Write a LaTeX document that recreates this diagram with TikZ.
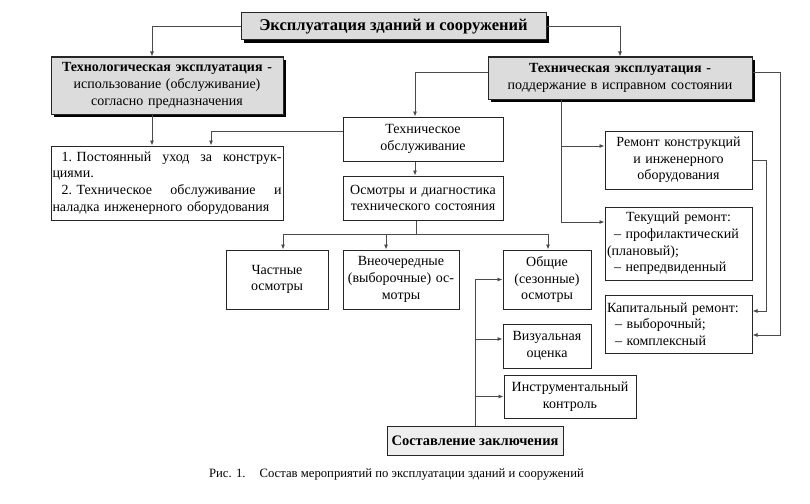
\documentclass[tikz,border=0pt]{standalone}
\usepackage{fontspec}
\setmainfont{Liberation Serif}
\usetikzlibrary{arrows.meta, positioning, shadows}
\definecolor{linegray}{HTML}{4A4A4A}
\definecolor{boxgray}{HTML}{DCDCDC}
\definecolor{palegray}{HTML}{EEEEEE}
\tikzset{
  box/.style={rectangle, draw=black!85, line width=1pt, fill=white,
              inner sep=1pt, align=center,
              font=\fontsize{14}{16.7}\selectfont},
  boxS/.style={box, fill=boxgray,
               drop shadow={shadow xshift=3pt, shadow yshift=-3pt,
                            fill=black, opacity=1}},
  arrow/.style={-{Latex[length=5pt,width=4pt]}, draw=linegray, line width=0.8pt},
  link/.style={draw=linegray, line width=0.8pt},
}

\begin{document}
\begin{tikzpicture}[x=1pt, y=-1pt]   %% pixel grid of the scan, y pointing down
  \useasboundingbox (0,0) rectangle (810,503);

  %% ── Top level ────────────────────────────────────────────────────────────
  \node[boxS, minimum width=305pt, minimum height=27pt,
        font=\fontsize{16.5}{19}\selectfont\bfseries] (title) at (393.5,26.5)
        {Эксплуатация зданий и сооружений};

  \node[boxS, minimum width=232pt, minimum height=57pt, text width=228pt]
        (techno) at (167,85.5)
        {\textbf{Технологическая эксплуатация -}\\
         использование (обслуживание)\\согласно предназначения};
  \node[boxS, minimum width=264pt, minimum height=42pt, text width=260pt]
        (tech) at (620,78)
        {\textbf{Техническая эксплуатация -}\\
         поддержание в исправном состоянии};

  %% ── Left branch ──────────────────────────────────────────────────────────
  \node[box, minimum width=232pt, minimum height=74pt, text width=229pt,
        align=left] (duties) at (167,183)
        {\hspace*{9pt}1.\ Постоянный\hfill уход\hfill за\hfill конструк-\\
         циями.\\
         \hspace*{9pt}2.\ Техническое\hfill обслуживание\hfill и\\
         наладка инженерного оборудования};

  %% ── Maintenance and inspections ──────────────────────────────────────────
  \node[box, minimum width=160pt, minimum height=44pt, text width=156pt]
        (service) at (423,139) {Техническое\\обслуживание};
  \node[box, minimum width=160pt, minimum height=44pt, text width=156pt]
        (survey) at (423,198) {Осмотры и диагностика\\технического состояния};

  \node[box, minimum width=102pt, minimum height=59pt, text width=98pt]
        (partial) at (277,279.5) {Частные\\осмотры};
  \node[box, minimum width=116pt, minimum height=59pt, text width=112pt]
        (unsched) at (401,279.5) {Внеочередные\\(выборочные) ос-\\мотры};
  \node[box, minimum width=88pt, minimum height=59pt, text width=84pt]
        (general) at (547,279.5) {Общие\\(сезонные)\\осмотры};
  \node[box, minimum width=88pt, minimum height=44pt, text width=84pt]
        (visual) at (547,346) {Визуальная\\оценка};
  \node[box, minimum width=132pt, minimum height=43pt, text width=128pt]
        (instr) at (570,396.5) {Инструментальный\\контроль};
  \node[box, fill=palegray, minimum width=176pt, minimum height=29pt,
        font=\fontsize{14.5}{17}\selectfont\bfseries] (report) at (475,440.5)
        {Составление заключения};

  %% ── Repairs ──────────────────────────────────────────────────────────────
  \node[box, minimum width=147pt, minimum height=58pt, text width=143pt]
        (repair) at (678.5,160) {Ремонт конструкций\\и инженерного\\оборудования};
  \node[box, minimum width=147pt, minimum height=73pt, text width=143pt,
        align=left] (current) at (678.5,243.5)
        {\hfill Текущий ремонт:\hfill\mbox{}\\
         \hspace*{7pt}– профилактический\\(плановый);\\
         \hspace*{7pt}– непредвиденный};
  \node[box, minimum width=147pt, minimum height=58pt, text width=143pt,
        align=left] (capital) at (678.5,324)
        {Капитальный ремонт:\\
         \hspace*{8pt}– выборочный;\\
         \hspace*{8pt}– комплексный};

  %% ── Caption ──────────────────────────────────────────────────────────────
  \node[font=\fontsize{12.7}{15}\selectfont] (caption) at (396.5,475)
        {Рис. 1.\hspace{14pt}Состав мероприятий по эксплуатации зданий и сооружений};

  %% ── Connectors ───────────────────────────────────────────────────────────
  \draw[arrow] (title.west) -| ([xshift=-15pt]techno.north);
  \draw[arrow] (title.east) -| (tech.north);
  \draw[arrow] ([xshift=-15pt]techno.south) -- ([xshift=-15pt]duties.north);
  \draw[arrow] ([yshift=8pt]service.west) -| ([xshift=44pt]duties.north);
  \draw[arrow] ([yshift=6pt]tech.west) -| ([xshift=-8pt]service.north);
  \draw[arrow] ([xshift=-8pt]service.south) -- ([xshift=-8pt]survey.north);

  \coordinate (surveybar) at (416,234);
  \draw[link]  ([xshift=-7pt]survey.south) -- (surveybar);
  \draw[arrow] (surveybar) -| ([xshift=6pt]partial.north);
  \draw[arrow] (surveybar) -| ([xshift=-15pt]unsched.north);
  \draw[arrow] (surveybar) -| ([xshift=1pt]general.north);

  \draw[arrow] (report.north) |- (general.west);
  \draw[arrow] (report.north) |- ([yshift=7pt]visual.west);
  \draw[arrow] (report.north) |- (instr.west);

  \draw[arrow] ([xshift=-59pt]tech.south) |- ([yshift=14pt]repair.west);
  \draw[arrow] ([xshift=-59pt]tech.south) |- ([yshift=21.5pt]current.west);
  \draw[arrow] (repair.east) -- ++(14,0) |- ([yshift=13pt]capital.east);
  \draw[arrow] ([yshift=6pt]tech.east) -- ++(28,0) |- ([yshift=-11pt]capital.east);

\end{tikzpicture}
\end{document}
